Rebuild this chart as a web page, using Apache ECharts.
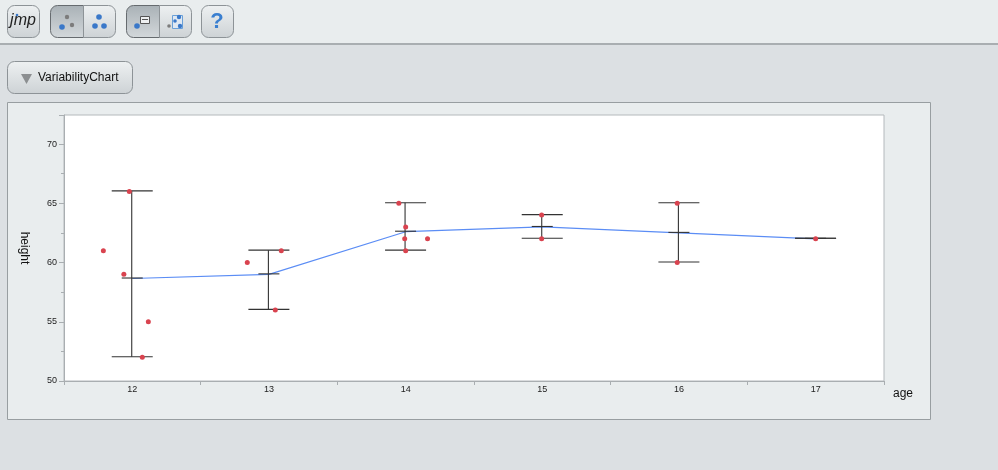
<!DOCTYPE html>
<html>
<head>
<meta charset="utf-8">
<style>html,body{margin:0;padding:0;background:#dce0e3}#c{width:998px;height:470px}</style>
<script src="https://cdn.jsdelivr.net/npm/echarts@6/dist/echarts.min.js"></script>
</head>
<body>
<div id="c"></div>
<script>
const categories = ['12','13','14','15','16','17'];
const means = [58.65, 59, 62.6, 63, 62.5, 62];
const lows = [52, 56, 61, 62, 60, 62];
const highs = [66, 61, 65, 64, 65, 62];
// x is the group index plus the horizontal jitter
const pointsX = [-0.212,-0.062,-0.022,0.073,0.117, 0.841,1.09,1.046, 1.95,2,1.993,2.16,2, 2.995,2.995, 3.987,3.987, 5];
const pointsY = [61,59,66,52,55, 60,61,56, 65,63,62,62,61, 64,62, 65,60, 62];
const yTicks = ['50','55','60','65','70'];

const FONT = '"Liberation Sans", Arial, sans-serif';
const chart = echarts.init(document.getElementById('c'), null, {renderer:'canvas'});

function grad(a,b){return new echarts.graphic.LinearGradient(0,0,0,1,[{offset:0,color:a},{offset:1,color:b}]);}
const UP = ()=>grad('#eef1f2','#cdd2d5');
const DOWN = ()=>grad('#a9b1b6','#d3d8db');
function rr(x,y,w,h,r,fill,stroke){
  return {type:'rect',shape:{x:x+.5,y:y+.5,width:w,height:h,r:r},style:{fill:fill,stroke:stroke||'#8d9397',lineWidth:1},silent:true};
}
function dot(x,y,r,c){return {type:'circle',shape:{cx:x,cy:y,r:r},style:{fill:c},silent:true};}
const BLUE='#3a78c9', GREY='#7c7c7c';

const graphics = [
  {type:'rect',shape:{x:0,y:0,width:998,height:43},style:{fill:'#e9edee'},silent:true},
  {type:'rect',shape:{x:0,y:43,width:998,height:2},style:{fill:'#a9aeb1'},silent:true},
  rr(7,5,32,32,7,UP()),
  {type:'text',x:23,y:21,style:{text:'jmp',font:'italic 16px '+FONT,fill:'#222',align:'center',verticalAlign:'middle'},silent:true},
  dot(17,15,1.3,BLUE),
  rr(50,5,33,32,[7,0,0,7],DOWN(),'#666b6f'),
  rr(83,5,32,32,[0,7,7,0],UP()),
  dot(62,27,2.8,BLUE), dot(67,17,2.2,GREY), dot(72,25,2.2,GREY),
  dot(99,17,2.8,BLUE), dot(95,26,2.8,BLUE), dot(104,26,2.8,BLUE),
  rr(126,5,33,32,[7,0,0,7],DOWN(),'#666b6f'),
  rr(159,5,32,32,[0,7,7,0],UP()),
  {type:'rect',shape:{x:140.5,y:16.5,width:9,height:7},style:{fill:'#eef0f1',stroke:'#555',lineWidth:1},silent:true},
  {type:'rect',shape:{x:142,y:19,width:6,height:1},style:{fill:'#555'},silent:true},
  dot(137,26,2.8,BLUE),
  {type:'rect',shape:{x:172.5,y:15.5,width:10,height:13},style:{fill:'#dfe8f2',stroke:'#6aa0d8',lineWidth:1},silent:true},
  dot(179,17,2.2,BLUE), dot(175,21,1.8,BLUE), dot(180,26,2.2,BLUE), dot(169,26,1.8,GREY),
  rr(201,5,32,32,7,UP()),
  {type:'text',x:217,y:22,style:{text:'?',font:'bold 22px '+FONT,fill:'#3a7fd0',align:'center',verticalAlign:'middle'},silent:true},
  rr(7,61,125,32,7,UP()),
  {type:'polygon',shape:{points:[[21,74],[32,74],[26.5,84]]},style:{fill:'#8c8f91'},silent:true},
  {type:'text',x:38,y:78,style:{text:'VariabilityChart',font:'12px '+FONT,fill:'#111',align:'left',verticalAlign:'middle'},silent:true},
  {type:'rect',shape:{x:7.5,y:102.5,width:923,height:317},style:{fill:'#e9edee',stroke:'#989ea1',lineWidth:1},silent:true},
  {type:'text',x:24,y:248,rotation:-Math.PI/2,style:{text:'height',font:'12px '+FONT,fill:'#111',align:'center',verticalAlign:'middle'},silent:true},
  {type:'text',x:903,y:394,style:{text:'age',font:'12px '+FONT,fill:'#111',align:'center',verticalAlign:'middle'},silent:true}
];

function whiskers(params, api){
  const i = api.value(0);
  const lo = api.coord([i, api.value(1)]);
  const hi = api.coord([i, api.value(2)]);
  const m = api.coord([i, api.value(3)]);
  const x = lo[0] - .6;
  const s = {stroke:'#333',lineWidth:1.1};
  const seg = (x1,y1,x2,y2)=>({type:'line',shape:{x1,y1,x2,y2},style:s,silent:true});
  const py = v=>v-.5;
  return {type:'group',children:[
    seg(x,py(hi[1]),x,py(lo[1])),
    seg(x-20,py(hi[1]),x+21,py(hi[1])),
    seg(x-20,py(lo[1]),x+21,py(lo[1])),
    seg(x-10,py(m[1]),x+11,py(m[1]))
  ]};
}

const axisZ = 2;
chart.setOption({
  animation:false,
  backgroundColor:'#dce0e3',
  textStyle:{fontFamily:FONT},
  graphic:{elements:graphics},
  grid:{left:64,top:115,width:820,height:266,show:true,z:1,backgroundColor:'#fff',borderColor:'#b4b9bc',borderWidth:1,containLabel:false},
  xAxis:[
    {type:'category',data:categories,boundaryGap:true,z:axisZ,
     axisLine:{onZero:false,lineStyle:{color:'#a9aeb1'}},axisTick:{show:true,length:4,alignWithLabel:false,lineStyle:{color:'#a9aeb1'}},
     axisLabel:{color:'#222',fontSize:9,margin:4,fontFamily:FONT},splitLine:{show:false}},
    {type:'value',min:-0.5,max:5.5,show:false}
  ],
  yAxis:{type:'value',min:50,max:72.45,interval:5,z:axisZ,
     axisLine:{show:true,onZero:false,lineStyle:{color:'#a9aeb1'}},
     axisTick:{show:true,length:5,lineStyle:{color:'#a9aeb1'}},
     minorTick:{show:true,splitNumber:2,length:3,lineStyle:{color:'#a9aeb1'}},
     splitLine:{show:false},minorSplitLine:{show:false},
     axisLabel:{color:'#222',fontSize:9,margin:7,fontFamily:FONT,showMaxLabel:false,
       formatter:v=>yTicks.includes(String(v))?String(v):''}},
  series:[
    {type:'line',xAxisIndex:0,yAxisIndex:0,data:means,symbol:'none',z:3,silent:true,
     lineStyle:{color:'#5b8df5',width:1.2}},
    {type:'custom',xAxisIndex:0,yAxisIndex:0,renderItem:whiskers,z:4,silent:true,
     encode:{x:0,y:[1,2,3]},
     data:categories.map((c,i)=>[i,lows[i],highs[i],means[i]])},
    {type:'scatter',xAxisIndex:1,yAxisIndex:0,z:5,silent:true,symbol:'circle',symbolSize:5,
     itemStyle:{color:'#d9434f',opacity:1},
     data:pointsX.map((x,i)=>[x,pointsY[i]])}
  ]
});
</script>
</body>
</html>
